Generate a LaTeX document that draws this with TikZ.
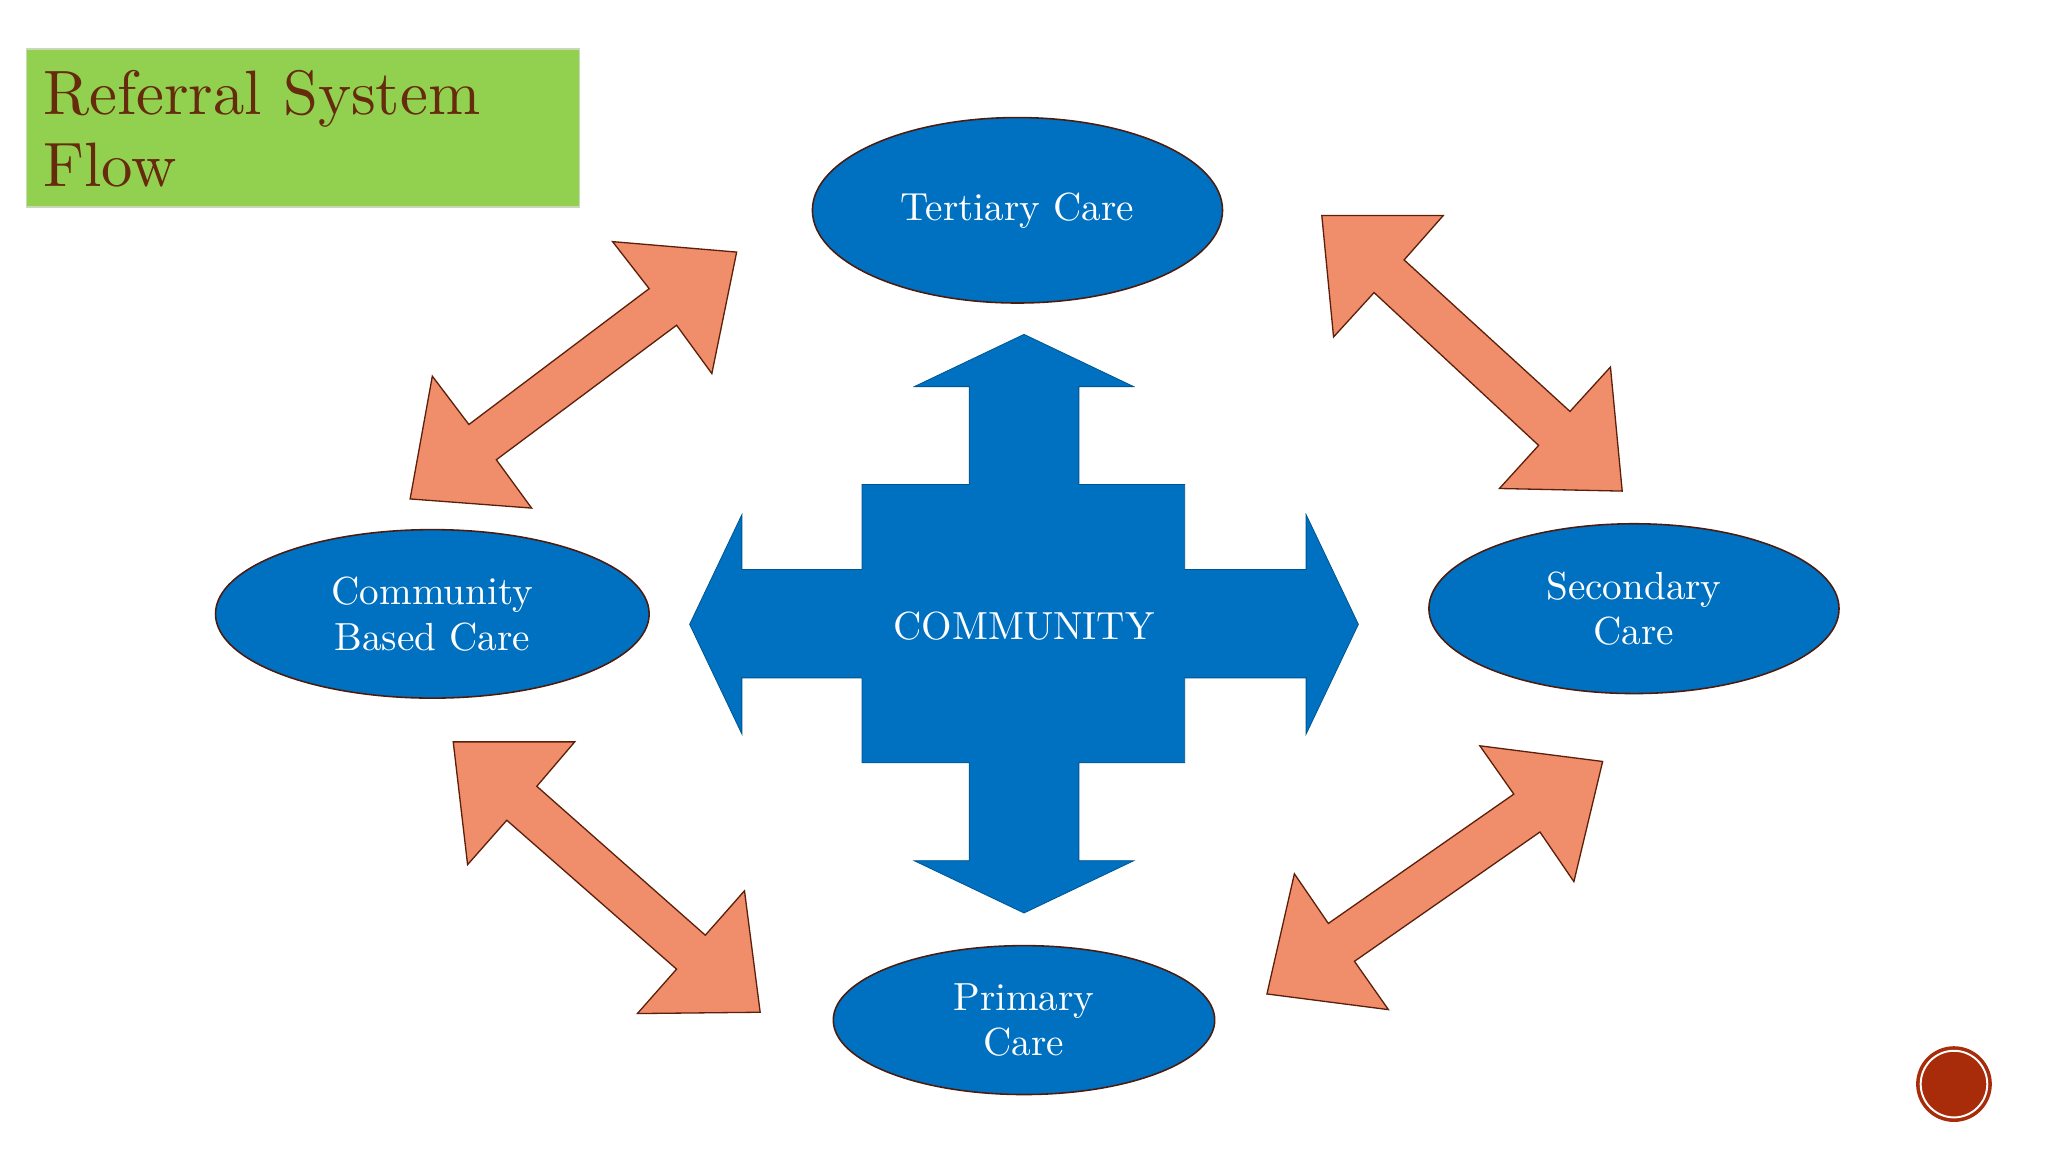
\documentclass[tikz,border=0pt]{standalone}
\usepackage{fontspec}
\setmainfont{lmroman10-regular}[Extension=.otf]
\usetikzlibrary{shapes.geometric}
\definecolor{ovalblue}{HTML}{0070C0}
\definecolor{ovaledge}{HTML}{4A1C10}
\definecolor{arrowfill}{HTML}{F08D6B}
\definecolor{arrowedge}{HTML}{5C1F0A}
\definecolor{titlegreen}{HTML}{92D050}
\definecolor{titletextcol}{HTML}{652B0C}
\definecolor{titleedge}{HTML}{C9D9B8}
\definecolor{badgered}{HTML}{A82B0A}
\begin{document}
\begin{tikzpicture}[x=1pt,y=-1pt,
  oval/.style={ellipse, fill=ovalblue, draw=ovaledge, line width=1.2pt, inner sep=0pt,
    text=white, align=center, font=\fontsize{30}{35}\selectfont},
  blockarrow/.style={fill=arrowfill, draw=arrowedge, line width=1pt, line join=miter},
  crossshape/.style={fill=ovalblue, draw=ovalblue!75!black, line width=0.6pt, line join=miter},
  titlebox/.style={rectangle, fill=titlegreen, draw=titleedge, line width=1pt, inner sep=0pt},
  titletext/.style={text=titletextcol, align=left, inner sep=0pt, font=\fontsize{48}{55}\selectfont},
  crosstext/.style={text=white, font=\fontsize{30}{35}\selectfont}]
\useasboundingbox (0,0) rectangle (1568,882);
\fill[white] (0,0) rectangle (1568,882);

% title
\node[titlebox, minimum width=423pt, minimum height=121pt, anchor=north west] (title) at (20,37) {};
\node[titletext, anchor=north west] (titletxt) at (33,54) {Referral System\\Flow};

% central cross
\draw[crossshape] (784,256) -- (868,296) -- (826,296) -- (826,371) -- (907,371) -- (907,436)
  -- (1000,436) -- (1000,394) -- (1040,478) -- (1000,562) -- (1000,519) -- (907,519)
  -- (907,584) -- (826,584) -- (826,659) -- (868,659) -- (784,699) -- (700,659)
  -- (742,659) -- (742,584) -- (660,584) -- (660,519) -- (568,519) -- (568,562)
  -- (528,478) -- (568,394) -- (568,436) -- (660,436) -- (660,371) -- (742,371)
  -- (742,296) -- (700,296) -- cycle;
\node[crosstext] (comm) at (784,479) {COMMUNITY};

% ovals
\node[oval, minimum width=314pt, minimum height=142pt] (tert) at (779,161) {Tertiary Care};
\node[oval, minimum width=332pt, minimum height=129pt] (cbc) at (331,470) {Community\\Based Care};
\node[oval, minimum width=314pt, minimum height=130pt] (sec) at (1251,466) {Secondary\\Care};
\node[oval, minimum width=292pt, minimum height=114pt] (prim) at (784,781) {Primary\\Care};

% double block arrows
\draw[blockarrow] (564,193) -- (545,286) -- (518,249) -- (380,352) -- (407,389) -- (314,382)
  -- (331,288) -- (359,325) -- (497,221) -- (469,185) -- cycle;
\draw[blockarrow] (1012,165) -- (1105,165) -- (1075,199) -- (1202,315) -- (1233,281)
  -- (1242,376) -- (1148,374) -- (1178,341) -- (1052,224) -- (1021,258) -- cycle;
\draw[blockarrow] (347,568) -- (440,568) -- (411,602) -- (540,716) -- (570,682) -- (582,775)
  -- (488,776) -- (518,742) -- (388,628) -- (358,662) -- cycle;
\draw[blockarrow] (1227,583) -- (1205,675) -- (1179,637) -- (1037,736) -- (1063,773)
  -- (970,761) -- (991,669) -- (1017,707) -- (1159,608) -- (1133,571) -- cycle;

% badge
\fill[badgered] (1496,830) circle[radius=29];
\draw[white, line width=1.5pt] (1496,830) circle[radius=25.5];
\end{tikzpicture}
\end{document}
